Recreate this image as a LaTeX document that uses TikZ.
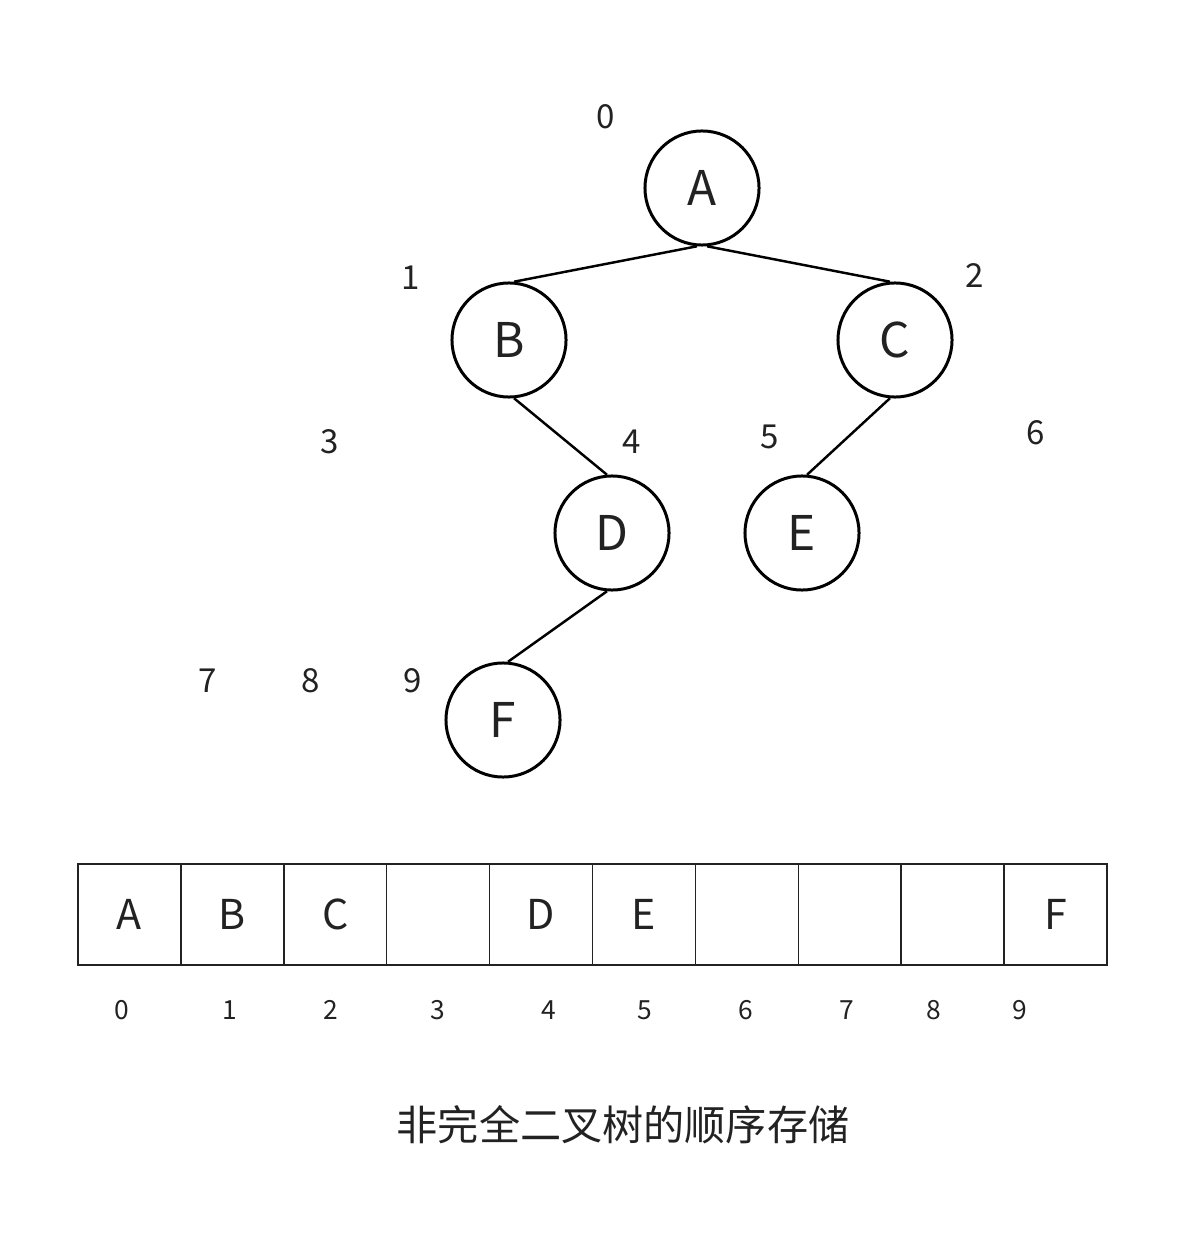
\documentclass[tikz,border=0pt]{standalone}
\usepackage{fontspec}
\setmainfont{Noto Sans CJK SC}
\usetikzlibrary{positioning}
\definecolor{ink}{HTML}{222222}

\begin{document}
\begin{tikzpicture}[x=0.01cm,y=-0.01cm,
    vertex/.style={circle,draw=black,line width=0.85pt,minimum size=1.14cm,inner sep=0pt,
      text=ink,font=\fontsize{13.6}{14}\selectfont},
    idx/.style={inner sep=0pt,text=ink,font=\fontsize{9.4}{10}\selectfont},
    cell/.style={draw=ink,line width=0.4pt,minimum width=1.029cm,minimum height=1.01cm,
      inner sep=0pt,outer sep=0pt,text=ink,font=\fontsize{11.7}{12}\selectfont},
    cellidx/.style={inner sep=0pt,text=ink,font=\fontsize{7.5}{8}\selectfont},
    edge/.style={line width=0.7pt}]
    \useasboundingbox (0,0) rectangle (1188,1243);
    % tree
    \node[vertex] (A) at (702,188) {A};
    \node[vertex] (B) at (509,340) {B};
    \node[vertex] (C) at (895,340) {C};
    \node[vertex] (D) at (612,533) {D};
    \node[vertex] (E) at (802,533) {E};
    \node[vertex] (F) at (503,720) {F};
    \draw[edge] (A.-95) -- (B.85);
    \draw[edge] (A.-85) -- (C.95);
    \draw[edge] (B.-85) -- (D.95);
    \draw[edge] (C.-95) -- (E.85);
    \draw[edge] (D.-95) -- (F.85);
    % positions in the tree
    \foreach \i/\x/\y in {0/606/117,1/411/278,2/975/276,3/330/442,4/632/442,
                          5/770/437,6/1036/433,7/208/681,8/311/681,9/413/681}{
      \node[idx] (t\i) at (\x,\y) {\i};
    }
    % array
    \foreach \i/\t in {0/A,1/B,2/C,3/,4/D,5/E,6/,7/,8/,9/F}{
      \node[cell] (c\i) at ({129.45+102.9*\i},914.5) {\t};
    }
    \foreach \i/\x in {0/122,1/230,2/331,3/438,4/549,5/645,6/746,7/847,8/934,9/1020}{
      \node[cellidx] (n\i) at (\x,1010) {\i};
    }
    \node[inner sep=0pt,text=ink,font=\fontsize{11.7}{12}\selectfont] (cap) at (623,1125) {非完全二叉树的顺序存储};
\end{tikzpicture}
\end{document}
